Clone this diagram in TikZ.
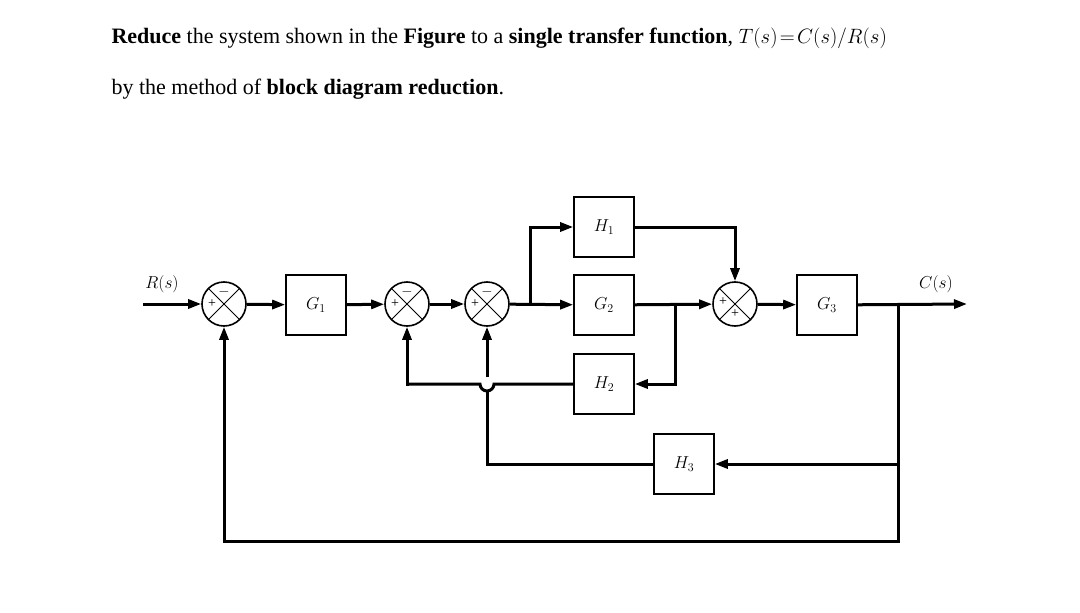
\documentclass[tikz,border=0pt]{standalone}
\usepackage{fontspec}
\setmainfont{Liberation Serif}
\usetikzlibrary{arrows.meta}
\begin{document}
\begin{tikzpicture}[x=1pt,y=-1pt,
  blk/.style={draw,line width=1.6pt,minimum width=60pt,minimum height=60pt,inner sep=0pt,font=\fontsize{17}{17}\selectfont},
  sum/.style={draw,circle,line width=1.6pt,minimum size=44pt,inner sep=0pt},
  sig/.style={line width=3pt,-{Triangle[length=13pt,width=9pt]}},
  ln/.style={line width=3pt},
  lab/.style={font=\fontsize{17}{17}\selectfont}]
\useasboundingbox (0,0) rectangle (1080,613);
\node[anchor=base west,font=\fontsize{22}{22}\selectfont] (t1) at (108,43) {\textbf{Reduce} the system shown in the \textbf{Figure} to a \textbf{single transfer function}, $T(s)\!=\!C(s)/R(s)$};
\node[anchor=base west,font=\fontsize{22}{22}\selectfont] (t2) at (108,94) {by the method of \textbf{block diagram reduction}.};
\newcommand{\sumx}[1]{\draw[line width=0.8pt] (#1.45) -- (#1.225) (#1.135) -- (#1.315);}
\node[sum] (s1) at (224,304) {}; \sumx{s1}
\node[sum] (s2) at (407,304) {}; \sumx{s2}
\node[sum] (s3) at (487,304) {}; \sumx{s3}
\node[sum] (s4) at (735,304) {}; \sumx{s4}
\foreach \s in {s1,s2,s3}{
  \node[font=\fontsize{14}{14}\selectfont] at ([xshift=-12pt]\s.center) {+};
  \node[font=\fontsize{14}{14}\selectfont] at ([yshift=12pt]\s.center) {$-$};}
\node[font=\fontsize{14}{14}\selectfont] at ([xshift=-12pt,yshift=2pt]s4.center) {+};
\node[font=\fontsize{14}{14}\selectfont] at ([yshift=-10pt]s4.center) {+};
\node[blk] (g1) at (316,305) {$G_1$};
\node[blk] (h1) at (604,227) {$H_1$};
\node[blk] (g2) at (604,305) {$G_2$};
\node[blk] (h2) at (604,384) {$H_2$};
\node[blk] (g3) at (827,305) {$G_3$};
\node[blk] (h3) at (684,464) {$H_3$};
\coordinate (in) at (143,304);
\coordinate (out) at (967,304);
\node[lab] (rl) at (162,284) {$R(s)$};
\node[lab] (cl) at (936,284) {$C(s)$};
\coordinate (b1) at (530,304);
\coordinate (b2) at (675,304);
\coordinate (b3) at (898,304);
\draw[sig] (in) -- (s1);
\draw[sig] (s1) -- (g1);
\draw[sig] (g1) -- (s2);
\draw[sig] (s2) -- (s3);
\draw[sig] (s3) -- (g2);
\draw[sig] (b1) |- (h1);
\draw[sig] (h1) -| (s4);
\draw[sig] (g2) -- (s4);
\draw[sig] (s4) -- (g3);
\draw[sig] (g3) -- (out);
\draw[sig] (b2) |- (h2);
\draw[ln] (h2.west) -- (494,384) arc (0:180:7) -- (407,384);
\draw[sig] (407,385.5) -- (s2);
\draw[sig] (b3) |- (h3);
\draw[ln] (h3.west) -| (487,391);
\draw[sig] (487,377) -- (s3);
\draw[ln] (b3) |- (224,541);
\draw[sig] (224,542.5) -- (s1);
\end{tikzpicture}
\end{document}
